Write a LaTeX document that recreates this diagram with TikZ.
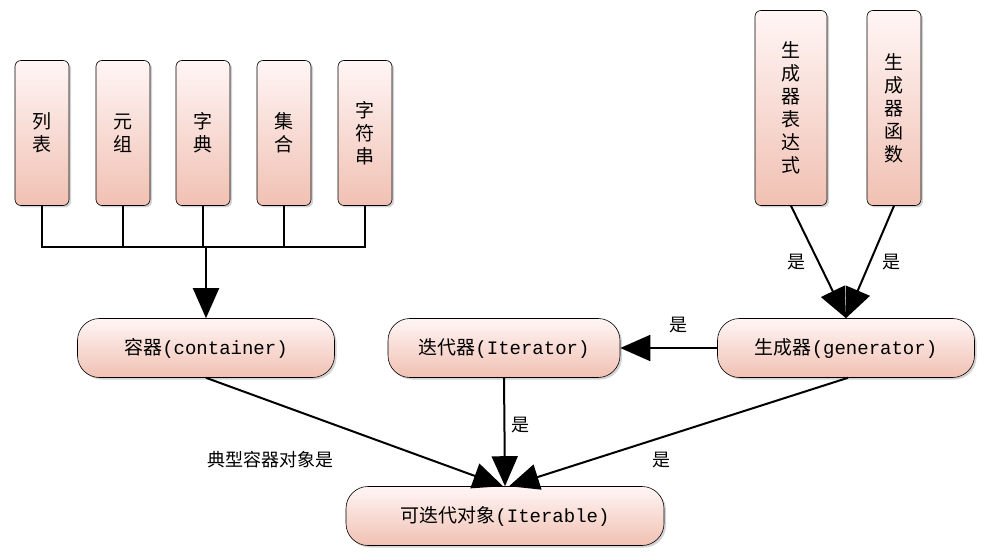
\documentclass[tikz,border=0pt]{standalone}
\usepackage{fontspec}
\setmainfont{Liberation Mono}
\newfontfamily\cjk{Noto Sans CJK SC}
\usetikzlibrary{arrows.meta,shadows}
\begin{document}
\begin{tikzpicture}[x=1pt,y=-1pt,
 bx/.style={draw=black,line width=0.6pt,rounded corners=6pt,top color=white!85!pink,bottom color=pink!70!brown!75!white,shading angle=0,drop shadow={shadow xshift=2pt,shadow yshift=-2pt,opacity=0.35},font=\fontsize{19}{23}\selectfont,inner sep=0pt},
 vb/.style={bx,minimum width=54pt,minimum height=145pt,align=center},
 hb/.style={bx,rounded corners=22pt,minimum height=59pt},
 ar/.style={line width=2pt,-{Triangle[length=30pt,width=26pt]}},
 lb/.style={font=\cjk\fontsize{18}{20}\selectfont}]
\useasboundingbox (0,0) rectangle (989,559);
\node[vb] (a) at (42,133) {\cjk 列\\\cjk 表};
\node[vb] (b) at (123,133) {\cjk 元\\\cjk 组};
\node[vb] (c) at (203,133) {\cjk 字\\\cjk 典};
\node[vb] (d) at (284,133) {\cjk 集\\\cjk 合};
\node[vb] (e) at (365,133) {\cjk 字\\\cjk 符\\\cjk 串};
\node[vb,minimum width=72pt,minimum height=195pt] (g1) at (791,108) {\cjk 生\\\cjk 成\\\cjk 器\\\cjk 表\\\cjk 达\\\cjk 式};
\node[vb,minimum height=195pt] (g2) at (894,108) {\cjk 生\\\cjk 成\\\cjk 器\\\cjk 函\\\cjk 数};
\node[hb,minimum width=257pt] (con) at (206,348) {{\cjk 容器}(container)};
\node[hb,minimum width=232pt] (it) at (504,348) {{\cjk 迭代器}(Iterator)};
\node[hb,minimum width=257pt] (gen) at (846,348) {{\cjk 生成器}(generator)};
\node[hb,minimum width=318pt] (ib) at (505,516) {{\cjk 可迭代对象}(Iterable)};
\coordinate (bus) at (206,247);
\draw[line width=2pt] (a.south) |- (e.south |- bus) -- (e.south);
\foreach \n in {b,c,d} \draw[line width=2pt] (\n.south) -- (\n.south |- bus);
\draw[ar] (bus) -- (con.north);
\draw[ar] (g1.south) -- (gen.north);
\draw[ar] (g2.south) -- (gen.north);
\draw[ar] (gen.west) -- (it.east);
\draw[ar] (it.south) -- (ib.north);
\draw[ar] (con.south) -- ([xshift=-2pt]ib.north);
\draw[ar] ([xshift=2pt]gen.south) -- ([xshift=4pt]ib.north);
\node[lb] at (796,262) {是};
\node[lb] at (891,262) {是};
\node[lb] at (678,325) {是};
\node[lb] at (520,425) {是};
\node[lb] at (270,460) {典型容器对象是};
\node[lb] at (661,460) {是};
\end{tikzpicture}
\end{document}
